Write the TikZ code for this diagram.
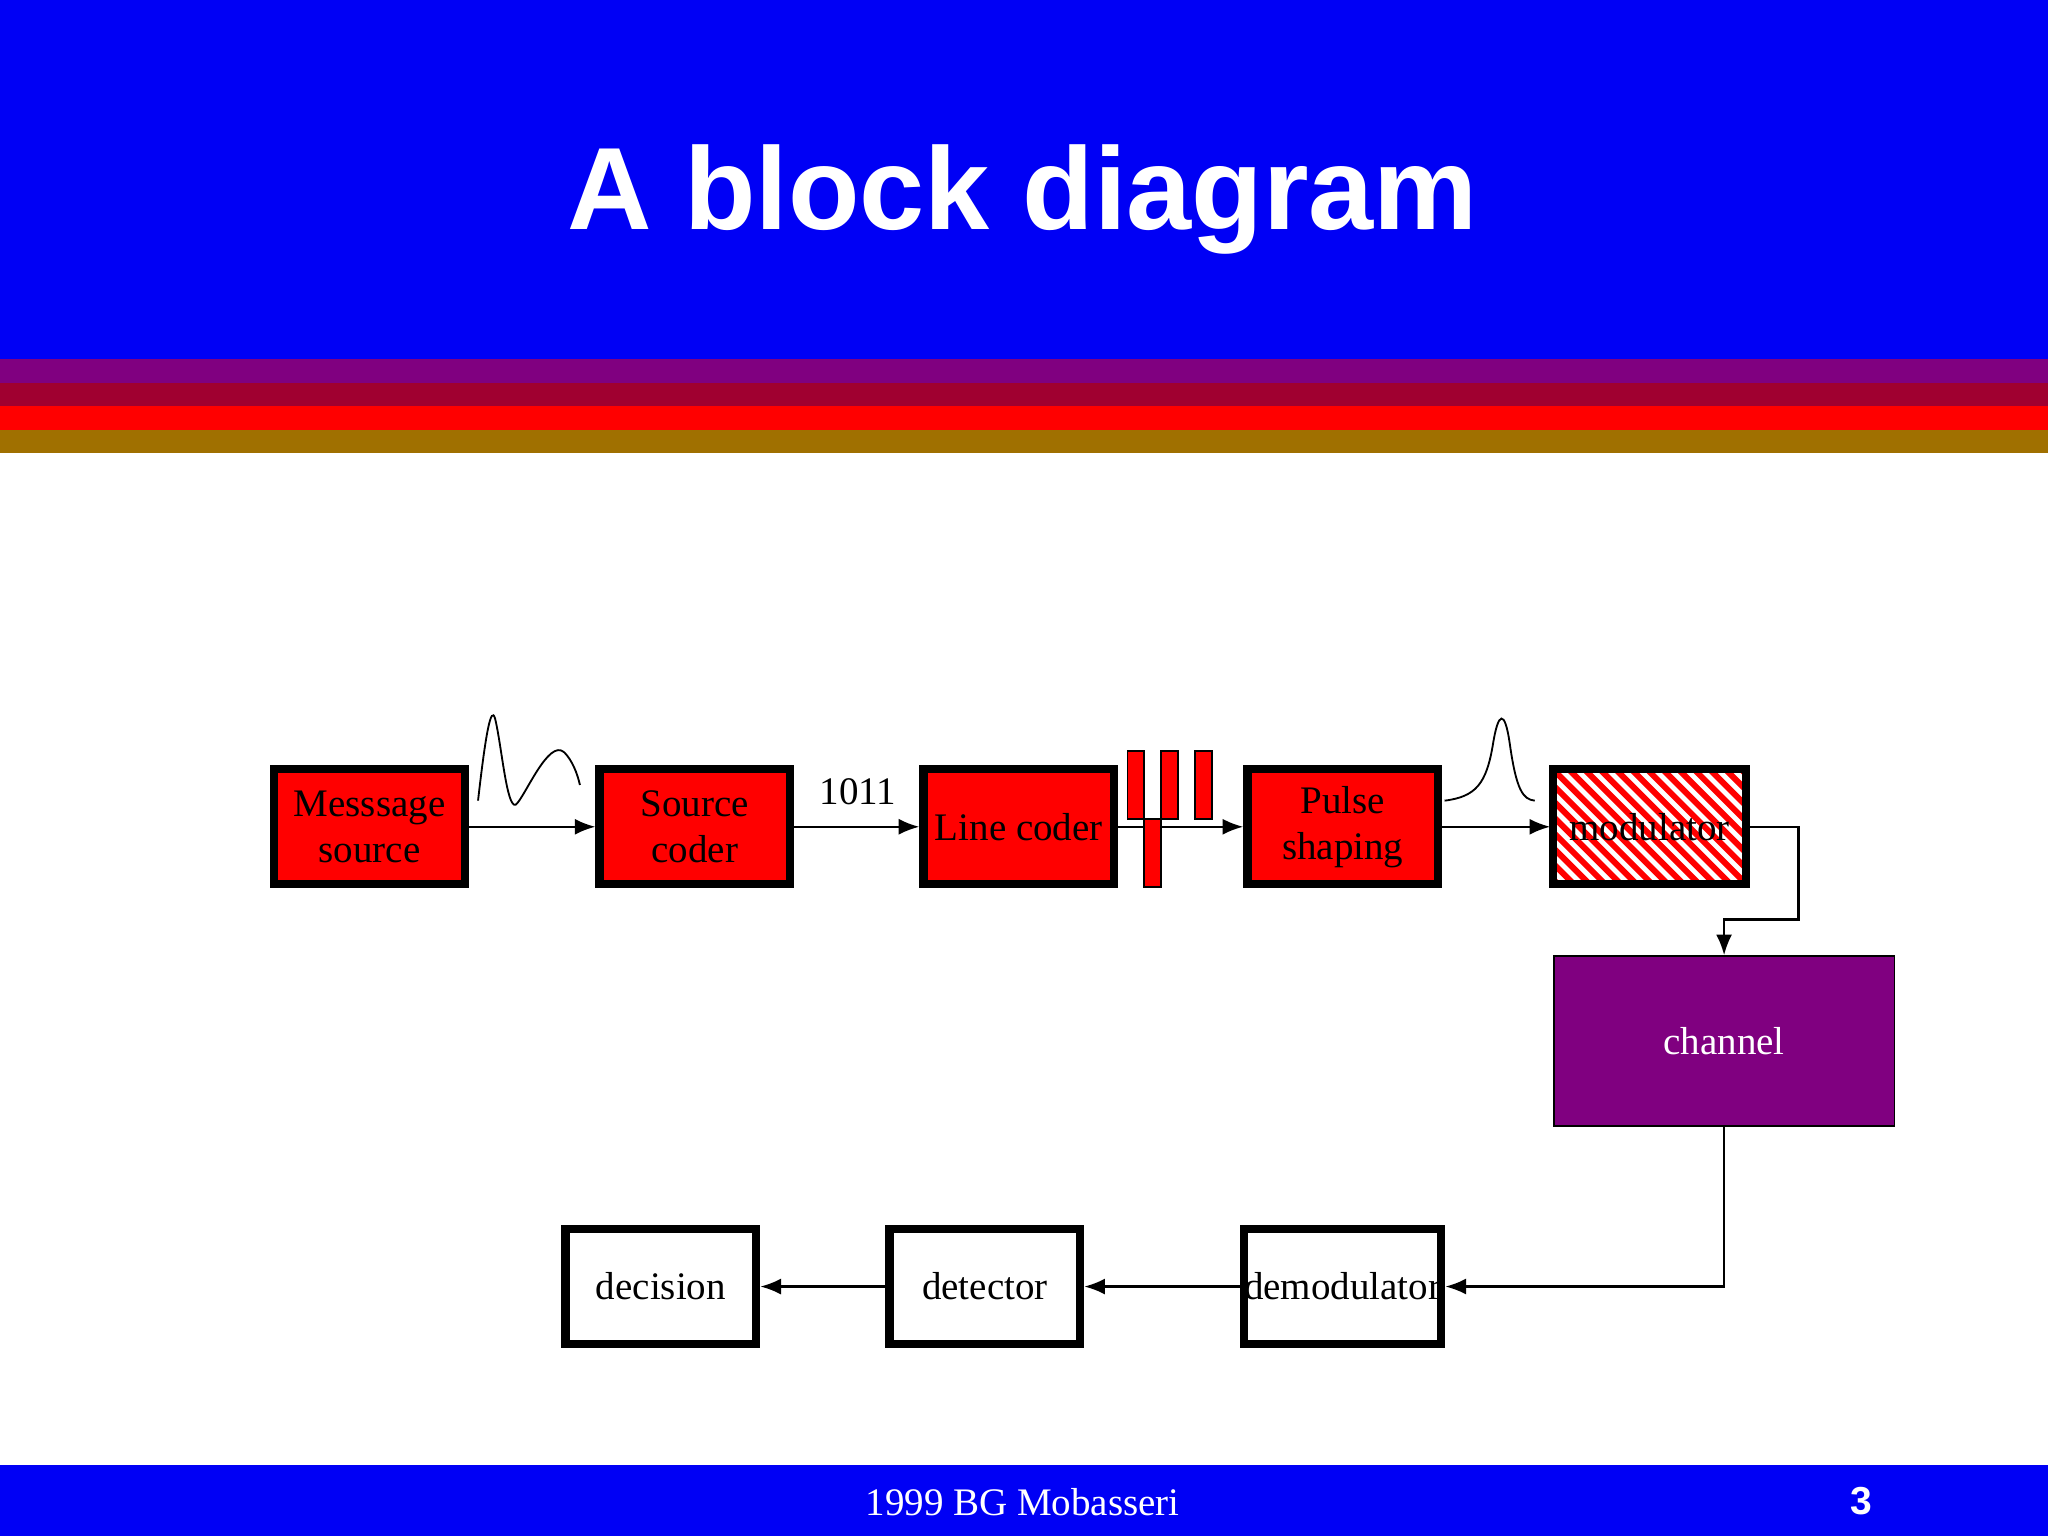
\documentclass[tikz,border=0pt]{standalone}
\usepackage{fontspec}
\setmainfont{Liberation Serif}
\newfontfamily\hdfont{Liberation Sans}
\usetikzlibrary{arrows.meta}
\definecolor{hdblue}{RGB}{0,0,245}
\definecolor{stpurple}{RGB}{128,0,128}
\definecolor{stwine}{RGB}{160,0,48}
\definecolor{stred}{RGB}{255,0,0}
\definecolor{stbrown}{RGB}{160,112,0}
\tikzset{
  x=0.02cm, y=-0.02cm,
  blk/.style={draw=black, line width=3.6pt, minimum width=2.92cm, minimum height=1.76cm,
    inner sep=0pt, align=center, font=\fontsize{17}{20}\selectfont},
  redblk/.style={blk, fill=stred},
  whtblk/.style={blk, fill=white},
  conn/.style={line width=1pt, -{Latex[length=9pt,width=7pt]}},
  wave/.style={line width=0.8pt},
}
\begin{document}
\begin{tikzpicture}
\useasboundingbox (0,0) rectangle (1568,1176);
\fill[white] (0,0) rectangle (1568,1176);
% header
\fill[hdblue] (0,0) rectangle (1568,275);
\fill[stpurple] (0,275) rectangle (1568,293);
\fill[stwine] (0,293) rectangle (1568,311);
\fill[stred] (0,311) rectangle (1568,329);
\fill[stbrown] (0,329) rectangle (1568,347);
\node[text=white, font=\hdfont\bfseries\fontsize{51}{56}\selectfont] (title) at (783,153) {A block diagram};
% footer
\fill[hdblue] (0,1122) rectangle (1568,1176);
\node[text=white, font=\fontsize{17}{20}\selectfont] (foot) at (783,1150) {1999 BG Mobasseri};
\node[text=white, font=\hdfont\bfseries\fontsize{17}{20}\selectfont] (pg) at (1425,1149) {3};

% blocks
\node[redblk] (msg) at (283,633) {Messsage\\source};
\node[redblk] (src) at (532,633) {Source\\coder};
\node[redblk] (line) at (780,633) {Line coder};
\node[redblk] (pulse) at (1028,633) {Pulse\\shaping};
\node[blk, draw=none, fill=white] (mod) at (1263,633) {};
\begin{scope}
  \clip (1189,589) rectangle (1337,677);
  \foreach \i in {-120,-108,...,180}
    \draw[stred, line width=2.6pt] (1189+\i,589) -- (1189+\i+88,677);
\end{scope}
\draw[black, line width=3.6pt] (1189,589) rectangle (1337,677);
\node[font=\fontsize{17}{20}\selectfont] (modt) at (1263,633) {modulator};
\node[draw=black, line width=0.8pt, fill=stpurple, minimum width=5.22cm, minimum height=2.6cm,
  text=white, font=\fontsize{17}{20}\selectfont] (chan) at (1320,797) {channel};
\node[whtblk] (demod) at (1028,985) {demodulator};
\node[whtblk] (det) at (754,985) {detector};
\node[whtblk] (dec) at (506,985) {decision};

% connectors
\draw[conn] (msg) -- (src);
\draw[conn] (src) -- (line);
\draw[conn] (line) -- (pulse);
\draw[conn] (pulse) -- (mod);
\draw[conn] (mod.east) -- (1377,633) -- (1377,704) -- (1320,704) -- (chan.north);
\draw[conn] (chan.south) |- (demod.east);
\draw[conn] (demod) -- (det);
\draw[conn] (det) -- (dec);

% labels and waveforms
\node[font=\fontsize{17}{20}\selectfont] (bits) at (657,606) {1011};
\draw[wave] (366,613) .. controls (372,560) and (376,540) .. (379,550)
  .. controls (384,570) and (388,620) .. (395,616)
  .. controls (402,610) and (420,565) .. (432,576)
  .. controls (438,582) and (442,592) .. (444,601);
\draw[wave] (1106,613) .. controls (1130,610) and (1138,600) .. (1143,570)
  .. controls (1147,545) and (1152,542) .. (1156,570)
  .. controls (1161,605) and (1166,612) .. (1175,613);
\foreach \xa in {863,889,915}
  \draw[fill=stred, line width=0.6pt] (\xa,575) rectangle (\xa+13,627);
\draw[fill=stred, line width=0.6pt] (876,627) rectangle (889,679);
\end{tikzpicture}
\end{document}
